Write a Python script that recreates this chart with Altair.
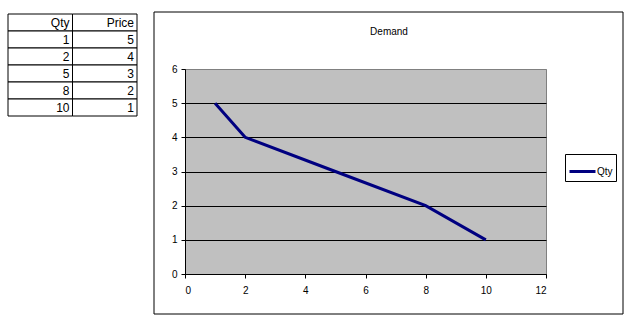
import altair as alt
import pandas as pd

# ---- data ----
qty = [1, 2, 5, 8, 10]
price = [5, 4, 3, 2, 1]
headers = ["Qty", "Price"]
series_name = "Qty"
x_ticks = [0, 2, 4, 6, 8, 10, 12]
y_ticks = [0, 1, 2, 3, 4, 5, 6]
title_text = "Demand"

FONT = "Liberation Sans"

line_df = pd.DataFrame({"Qty": qty, "Price": price, "series": [series_name] * len(qty)})

cells = []
for c, h in enumerate(headers):
    cells.append({"col": c, "row": 0, "label": h})
for r, (q, p) in enumerate(zip(qty, price), start=1):
    cells.append({"col": 0, "row": r, "label": str(q)})
    cells.append({"col": 1, "row": r, "label": str(p)})
table_df = pd.DataFrame(cells)

one = pd.DataFrame({"k": [0]})

# ---- spreadsheet table (left) ----
tx = alt.Scale(domain=[0, 2], range=[-177, -48])
ty = alt.Scale(domain=[0, 6], range=[-55, 47])

table_base = alt.Chart(table_df).transform_calculate(
    col_end="datum.col + 1", row_end="datum.row + 1", row_mid="datum.row + 0.5"
)
table_cells = table_base.mark_rect(fill="white", stroke="black", strokeWidth=1).encode(
    x=alt.X("col:Q", scale=tx, axis=None),
    x2="col_end:Q",
    y=alt.Y("row:Q", scale=ty, axis=None),
    y2="row_end:Q",
)
table_text = table_base.mark_text(
    align="right", baseline="middle", dx=-3, font=FONT, fontSize=12, color="black"
).encode(
    x=alt.X("col_end:Q", scale=tx, axis=None),
    y=alt.Y("row_mid:Q", scale=ty, axis=None),
    text="label:N",
)

# ---- chart outer frame ----
frame = alt.Chart(one).mark_rect(fill="transparent", stroke="black", strokeWidth=1).encode(
    x=alt.value(-31), x2=alt.value(438), y=alt.value(-57), y2=alt.value(245)
)

title = alt.Chart(one).mark_text(
    text=title_text, font=FONT, fontSize=10, color="black", align="center", baseline="middle"
).encode(x=alt.value(204), y=alt.value(-37))

# ---- demand line ----
line = alt.Chart(line_df).mark_line(strokeWidth=3).encode(
    x=alt.X(
        "Qty:Q",
        scale=alt.Scale(domain=[0, 12], nice=False),
        axis=alt.Axis(values=x_ticks, grid=False, title=None, labelPadding=7),
    ),
    y=alt.Y(
        "Price:Q",
        scale=alt.Scale(domain=[0, 6], nice=False),
        axis=alt.Axis(
            values=y_ticks,
            grid=True,
            title=None,
            labelPadding=4,
            gridColor={"condition": {"test": "datum.value == 6", "value": "#808080"}, "value": "black"},
        ),
    ),
    color=alt.Color(
        "series:N",
        scale=alt.Scale(domain=[series_name], range=["#000080"]),
        legend=alt.Legend(
            title=None,
            orient="none",
            legendX=380,
            legendY=85,
            symbolType="stroke",
            symbolSize=676,
            symbolStrokeWidth=3,
            strokeColor="black",
            fillColor="white",
            padding=3,
            labelOffset=0,
            labelFont=FONT,
            labelFontSize=10,
            labelColor="black",
        ),
    ),
)

chart = (
    alt.layer(frame, table_cells, table_text, line, title)
    .resolve_scale(x="independent", y="independent")
    .properties(
        width=361,
        height=205,
        padding={"left": 185, "top": 69, "right": 95, "bottom": 54},
        autosize=alt.AutoSizeParams(type="none"),
        background="white",
    )
    .configure_view(fill="#C0C0C0", stroke="#808080", strokeWidth=1)
    .configure_axis(
        domainColor="black",
        tickColor="black",
        tickSize=4,
        labelFont=FONT,
        labelFontSize=10,
        labelColor="black",
        gridWidth=1,
    )
)

chart.save("out.html", embed_options={"renderer": "svg", "actions": False})
